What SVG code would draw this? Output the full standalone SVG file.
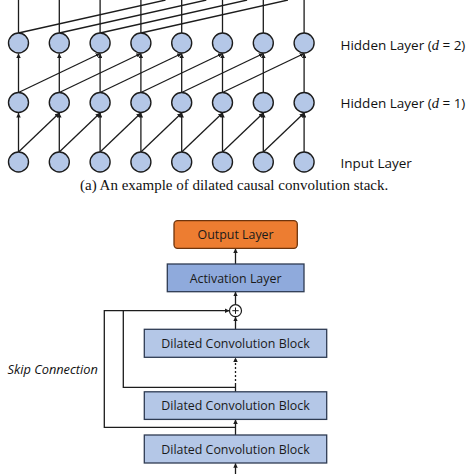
<svg xmlns="http://www.w3.org/2000/svg" width="474" height="474" viewBox="0 0 474 474">
<style>
.n{fill:#b4c7e7;stroke:#1c1c1c;stroke-width:1.4}
.c{fill:none;stroke:#1c1c1c;stroke-width:1.3}
.ca{fill:none;stroke:#1c1c1c;stroke-width:1.3;marker-end:url(#ah)}
.lbl{font-family:"Open Sans","Noto Sans",sans-serif;font-size:13.5px;fill:#111}
.cap{font-family:"Liberation Serif",serif;font-size:15px;fill:#111}
.bt{font-family:"Open Sans","Noto Sans",sans-serif;font-size:12.4px;fill:#1a1a1a;text-anchor:middle;dominant-baseline:central}
.blk{fill:#b4c7e7;stroke:#2e3b52;stroke-width:1.3}
</style>
<defs>
<marker id="ah" viewBox="0 0 6 6" refX="6" refY="3" markerWidth="4.5" markerHeight="4.5" markerUnits="userSpaceOnUse" orient="auto"><path d="M0,0 L6,3 L0,6 z" fill="#1c1c1c"/></marker>
</defs>
<g id="connectors-a">
<path class="c" d="M18.5,33V0M59.3,33V0M100.1,33V0M140.9,33V0M181.7,33V0M222.5,33V0M263.3,33V0M304.1,33V0"/>
<path class="c" d="M18.5,33L165.5,0M59.3,33L206.3,0M100.1,33L247.1,0M140.9,33L287.9,0"/>
<line class="ca" x1="18.5" y1="92.5" x2="18.5" y2="53.5"/>
<line class="ca" x1="59.3" y1="92.5" x2="59.3" y2="53.5"/>
<line class="ca" x1="100.1" y1="92.5" x2="100.1" y2="53.5"/>
<line class="ca" x1="140.9" y1="92.5" x2="140.9" y2="53.5"/>
<line class="ca" x1="181.7" y1="92.5" x2="181.7" y2="53.5"/>
<line class="ca" x1="222.5" y1="92.5" x2="222.5" y2="53.5"/>
<line class="ca" x1="263.3" y1="92.5" x2="263.3" y2="53.5"/>
<line class="ca" x1="304.1" y1="92.5" x2="304.1" y2="53.5"/>
<line class="ca" x1="18.5" y1="92.5" x2="100.1" y2="53.5"/>
<line class="ca" x1="59.3" y1="92.5" x2="140.9" y2="53.5"/>
<line class="ca" x1="100.1" y1="92.5" x2="181.7" y2="53.5"/>
<line class="ca" x1="140.9" y1="92.5" x2="222.5" y2="53.5"/>
<line class="ca" x1="181.7" y1="92.5" x2="263.3" y2="53.5"/>
<line class="ca" x1="222.5" y1="92.5" x2="304.1" y2="53.5"/>
<line class="ca" x1="18.5" y1="152" x2="18.5" y2="113"/>
<line class="ca" x1="59.3" y1="152" x2="59.3" y2="113"/>
<line class="ca" x1="100.1" y1="152" x2="100.1" y2="113"/>
<line class="ca" x1="140.9" y1="152" x2="140.9" y2="113"/>
<line class="ca" x1="181.7" y1="152" x2="181.7" y2="113"/>
<line class="ca" x1="222.5" y1="152" x2="222.5" y2="113"/>
<line class="ca" x1="263.3" y1="152" x2="263.3" y2="113"/>
<line class="ca" x1="304.1" y1="152" x2="304.1" y2="113"/>
<line class="ca" x1="18.5" y1="152" x2="59.3" y2="113"/>
<line class="ca" x1="59.3" y1="152" x2="100.1" y2="113"/>
<line class="ca" x1="100.1" y1="152" x2="140.9" y2="113"/>
<line class="ca" x1="140.9" y1="152" x2="181.7" y2="113"/>
<line class="ca" x1="181.7" y1="152" x2="222.5" y2="113"/>
<line class="ca" x1="222.5" y1="152" x2="263.3" y2="113"/>
<line class="ca" x1="263.3" y1="152" x2="304.1" y2="113"/>
</g>
<g id="layer-d2">
<circle class="n" cx="18.5" cy="43" r="10"/><circle class="n" cx="59.3" cy="43" r="10"/><circle class="n" cx="100.1" cy="43" r="10"/><circle class="n" cx="140.9" cy="43" r="10"/><circle class="n" cx="181.7" cy="43" r="10"/><circle class="n" cx="222.5" cy="43" r="10"/><circle class="n" cx="263.3" cy="43" r="10"/><circle class="n" cx="304.1" cy="43" r="10"/>
<text class="lbl" x="340.5" y="49.5">Hidden Layer (<tspan font-family="Liberation Serif" font-style="italic" font-size="14.5">d</tspan> = 2)</text>
</g>
<g id="layer-d1">
<circle class="n" cx="18.5" cy="102.5" r="10"/><circle class="n" cx="59.3" cy="102.5" r="10"/><circle class="n" cx="100.1" cy="102.5" r="10"/><circle class="n" cx="140.9" cy="102.5" r="10"/><circle class="n" cx="181.7" cy="102.5" r="10"/><circle class="n" cx="222.5" cy="102.5" r="10"/><circle class="n" cx="263.3" cy="102.5" r="10"/><circle class="n" cx="304.1" cy="102.5" r="10"/>
<text class="lbl" x="340.5" y="108">Hidden Layer (<tspan font-family="Liberation Serif" font-style="italic" font-size="14.5">d</tspan> = 1)</text>
</g>
<g id="layer-input">
<circle class="n" cx="18.5" cy="162" r="10"/><circle class="n" cx="59.3" cy="162" r="10"/><circle class="n" cx="100.1" cy="162" r="10"/><circle class="n" cx="140.9" cy="162" r="10"/><circle class="n" cx="181.7" cy="162" r="10"/><circle class="n" cx="222.5" cy="162" r="10"/><circle class="n" cx="263.3" cy="162" r="10"/><circle class="n" cx="304.1" cy="162" r="10"/>
<text class="lbl" x="340.5" y="167.5">Input Layer</text>
</g>
<text id="caption-a" class="cap" x="80" y="190">(a) An example of dilated causal convolution stack.</text>

<g id="connectors-b">
<line class="ca" x1="235.5" y1="264" x2="235.5" y2="248.5"/>
<line class="ca" x1="235.5" y1="304.7" x2="235.5" y2="291.8"/>
<line class="ca" x1="235.5" y1="329.3" x2="235.5" y2="316.7"/>
<line class="c" x1="235.5" y1="392" x2="235.5" y2="385"/>
<line class="ca" x1="235.5" y1="385" x2="235.5" y2="357.5" stroke-dasharray="2,2"/>
<line class="ca" x1="235.5" y1="435" x2="235.5" y2="419.5"/>
<line class="ca" x1="235.5" y1="474" x2="235.5" y2="463.3"/>
<polyline class="ca" points="235.5,427.3 104.3,427.3 104.3,310.7 229.5,310.7"/>
<polyline class="c" points="235.5,387.3 123.3,387.3 123.3,310.7"/>
</g>
<g id="output-layer">
<rect x="174" y="220.7" width="123.3" height="27.6" rx="3.5" fill="#ed7d31" stroke="#6e340c" stroke-width="1.3"/>
<text class="bt" x="235.6" y="234.5">Output Layer</text>
</g>
<g id="activation-layer">
<rect x="167.3" y="264" width="136.7" height="27.7" fill="#8faadc" stroke="#2e3b52" stroke-width="1.3"/>
<text class="bt" x="235.6" y="278">Activation Layer</text>
</g>
<g id="sum">
<circle cx="235.5" cy="310.7" r="6" fill="#fff" stroke="#1c1c1c" stroke-width="1.2"/>
<path d="M232.3,310.7H238.7M235.5,307.5V313.9" stroke="#1c1c1c" stroke-width="1"/>
</g>
<g id="block-1">
<rect class="blk" x="144.3" y="329.3" width="182.4" height="28"/>
<text class="bt" x="235.5" y="343.3">Dilated Convolution Block</text>
</g>
<g id="block-2">
<rect class="blk" x="144.3" y="391.8" width="182.4" height="27.6"/>
<text class="bt" x="235.5" y="405.6">Dilated Convolution Block</text>
</g>
<g id="block-3">
<rect class="blk" x="144.3" y="435" width="182.4" height="28"/>
<text class="bt" x="235.5" y="449">Dilated Convolution Block</text>
</g>
<text id="skip-label" x="7.5" y="373.5" font-family="Open Sans, Noto Sans, sans-serif" font-size="12.8" font-style="italic" fill="#111">Skip Connection</text>
</svg>
